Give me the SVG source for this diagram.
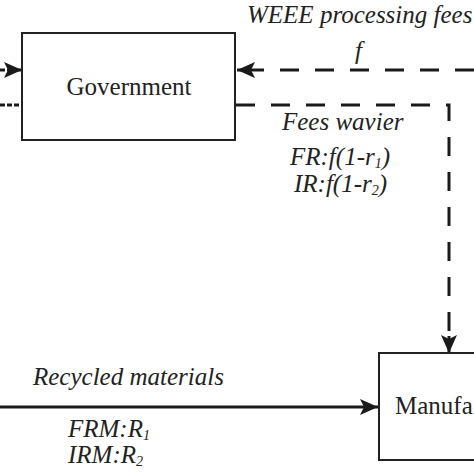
<svg xmlns="http://www.w3.org/2000/svg" width="474" height="474" viewBox="0 0 474 474">
<defs>
<marker id="ah" viewBox="0 0 18 16" refX="18" refY="8" markerWidth="18" markerHeight="16" markerUnits="userSpaceOnUse" orient="auto">
<path d="M0,0 L18,8 L0,16 L4,8 z" fill="#1a1a1a"/>
</marker>
<style>
.box{fill:#fff;stroke:#222;stroke-width:2}
.t{font-family:"Liberation Serif","Times New Roman",serif;font-size:25px;fill:#222}
.i{font-style:italic}
.sub{font-size:14px}
.dash{fill:none;stroke:#1a1a1a;stroke-width:3;stroke-dasharray:19 16}
.fine{fill:none;stroke:#1a1a1a;stroke-width:3;stroke-dasharray:5 2}
.solid{fill:none;stroke:#1a1a1a;stroke-width:3}
</style>
</defs>
<rect width="474" height="474" fill="#fff"/>
<g id="connectors">
<path class="fine" d="M0,70 H8" />
<path class="solid" d="M8,70 H22" marker-end="url(#ah)"/>
<path class="fine" d="M0,105 H21"/>
<path class="dash" d="M474,70 H254"/>
<path class="solid" d="M254,70 H237" marker-end="url(#ah)"/>
<path class="dash" d="M236,105 H449 V336"/>
<path class="solid" d="M449,336 V353" marker-end="url(#ah)"/>
<path class="solid" d="M0,407 H378" marker-end="url(#ah)"/>
</g>
<g id="government">
<rect class="box" x="22" y="33" width="213" height="107"/>
<text class="t" x="129" y="95" text-anchor="middle">Government</text>
</g>
<g id="manufacturer">
<rect class="box" x="379" y="353" width="110" height="107"/>
<text class="t" x="395" y="414">Manufa</text>
</g>
<g id="labels">
<text class="t i" x="247" y="23">WEEE processing fees</text>
<text class="t i" x="355" y="59">f</text>
<text class="t i" x="282" y="130">Fees wavier</text>
<text class="t i" x="290" y="165">FR:f(1-r<tspan class="sub" dy="3">1</tspan><tspan dy="-3">)</tspan></text>
<text class="t i" x="294" y="192">IR:f(1-r<tspan class="sub" dy="3">2</tspan><tspan dy="-3">)</tspan></text>
<text class="t i" x="33" y="385">Recycled materials</text>
<text class="t i" x="68" y="437">FRM:R<tspan class="sub" dy="3">1</tspan></text>
<text class="t i" x="68" y="463">IRM:R<tspan class="sub" dy="3">2</tspan></text>
</g>
</svg>
